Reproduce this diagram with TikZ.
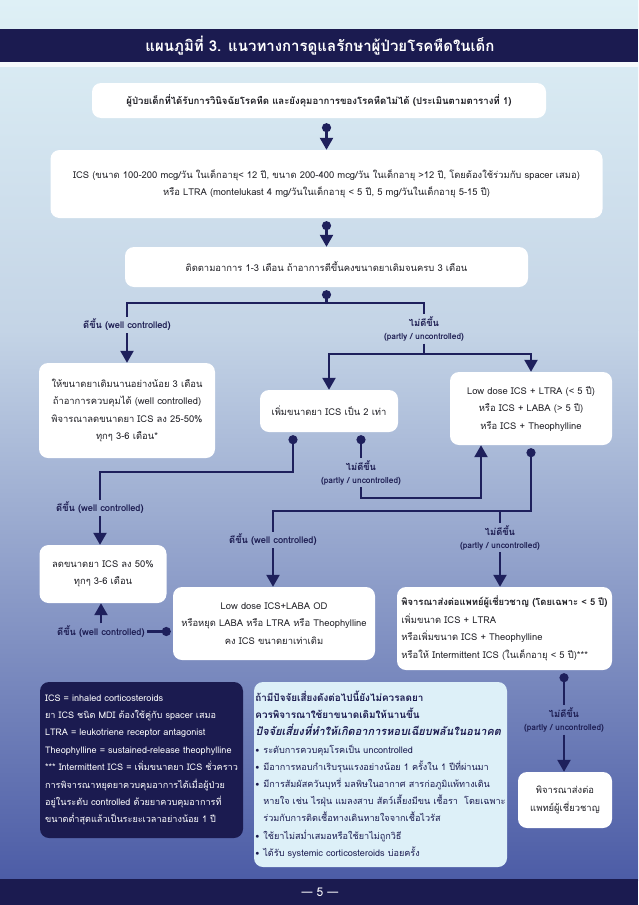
\documentclass[tikz,border=0pt]{standalone}
\usepackage{fontspec}
\setmainfont{Loma}[Script=Thai]
\usepackage{tikz}
\usetikzlibrary{positioning, arrows.meta, calc}
\definecolor{navy}{RGB}{27,27,80}
\definecolor{lineNavy}{RGB}{30,32,92}
\definecolor{bgTop}{RGB}{222,240,246}
\definecolor{bgMid}{RGB}{196,212,230}
\definecolor{bgBot}{RGB}{76,92,166}
\definecolor{riskBlue}{RGB}{221,240,248}
\definecolor{txtGray}{RGB}{32,32,38}
\newcommand{\riskbul}{\makebox[8pt][l]{\raisebox{0.6pt}{\scriptsize$\bullet$}}}
\newcommand{\partlytxt}{{\bfseries\fontsize{8.4}{10}\selectfont(partly / uncontrolled)}}

\begin{document}
\begin{tikzpicture}[
  x=1pt, y=-1pt,
  box/.style={fill=white, rounded corners=9pt, align=center, inner sep=0pt,
    text=txtGray, font=\fontsize{9.4}{17.5}\selectfont},
  lbl/.style={font=\bfseries\fontsize{9.3}{13}\selectfont, text=navy, align=center, inner sep=2pt},
  link/.style={draw=lineNavy, line width=2.4pt},
  dot/.style={{Circle[length=9pt]}-},
  arr/.style={-{Triangle[length=12pt,width=13pt]}},
  dotarr/.style={{Circle[length=9pt]}-{Triangle[length=12pt,width=13pt]}},
]
  \useasboundingbox (0,0) rectangle (638,905);
  \shade[top color=bgTop, bottom color=bgMid] (0,0) rectangle (638,330);
  \shade[top color=bgMid, bottom color=bgBot] (0,330) rectangle (638,880);
  \fill[navy] (0,29) rectangle (638,62);
  \fill[white, opacity=0.75] (0,62) rectangle (638,67);
  \fill[navy] (0,879) rectangle (638,905);

  \node[font=\bfseries\fontsize{15}{18}\selectfont, text=white] (title) at (320,46)
    {แผนภูมิที่ 3. แนวทางการดูแลรักษาผู้ป่วยโรคหืดในเด็ก};
  \node[text=white, font=\fontsize{12}{14}\selectfont] (page) at (320,892) {— 5 —};

  \node[box, minimum width=454pt, minimum height=35pt, font=\bfseries\fontsize{9.6}{11}\selectfont]
    (diag) at (319,100.5)
    {ผู้ป่วยเด็กที่ได้รับการวินิจฉัยโรคหืด และยังคุมอาการของโรคหืดไม่ได้ (ประเมินตามตารางที่ 1)};
  \node[box, minimum width=552pt, minimum height=68pt] (initial) at (326.5,184)
    {ICS (ขนาด 100-200 mcg/วัน ในเด็กอายุ< 12 ปี, ขนาด 200-400 mcg/วัน ในเด็กอายุ >12 ปี, โดยต้องใช้ร่วมกับ spacer เสมอ)\\
     หรือ LTRA (montelukast 4 mg/วันในเด็กอายุ < 5 ปี, 5 mg/วันในเด็กอายุ 5-15 ปี)};
  \node[box, minimum width=403pt, minimum height=40pt] (follow) at (326.5,267)
    {ติดตามอาการ 1-3 เดือน ถ้าอาการดีขึ้นคงขนาดยาเดิมจนครบ 3 เดือน};
  \node[box, minimum width=176pt, minimum height=95pt] (keepdose) at (127,410.5)
    {ให้ขนาดยาเดิมนานอย่างน้อย 3 เดือน\\ถ้าอาการควบคุมได้ (well controlled)\\
     พิจารณาลดขนาดยา ICS ลง 25-50\%\\ทุกๆ 3-6 เดือน*};
  \node[box, minimum width=138pt, minimum height=42pt] (doubleics) at (329,411)
    {เพิ่มขนาดยา ICS เป็น 2 เท่า};
  \node[box, minimum width=162pt, minimum height=73pt] (addon) at (531,408.5)
    {Low dose ICS + LTRA (< 5 ปี)\\หรือ ICS + LABA (> 5 ปี)\\หรือ ICS + Theophylline};
  \node[box, minimum width=127pt, minimum height=58pt] (reduce) at (103,574)
    {ลดขนาดยา ICS ลง 50\%\\ทุกๆ 3-6 เดือน};
  \node[box, minimum width=202pt, minimum height=73pt] (lowdose) at (274,623.5)
    {Low dose ICS+LABA OD\\หรือหยุด LABA หรือ LTRA หรือ Theophylline\\คง ICS ขนาดยาเท่าเดิม};
  \node[box, minimum width=215pt, minimum height=83pt, align=left] (refer) at (504.5,628.5)
    {\textbf{พิจารณาส่งต่อแพทย์ผู้เชี่ยวชาญ (โดยเฉพาะ < 5 ปี)}\\เพิ่มขนาด ICS + LTRA\\
     หรือเพิ่มขนาด ICS + Theophylline\\หรือให้ Intermittent ICS (ในเด็กอายุ < 5 ปี)***};
  \node[box, minimum width=94pt, minimum height=56pt] (specialist) at (565,800)
    {พิจารณาส่งต่อ\\แพทย์ผู้เชี่ยวชาญ};

  \node[box, fill=navy, text=white, align=left, minimum width=203pt, minimum height=156pt,
    font=\fontsize{9.1}{17.4}\selectfont] (legend) at (141.5,760)
    {ICS = inhaled corticosteroids\\ยา ICS ชนิด MDI ต้องใช้คู่กับ spacer เสมอ\\
     LTRA = leukotriene receptor antagonist\\Theophylline = sustained-release theophylline\\
     *** Intermittent ICS = เพิ่มขนาดยา ICS ชั่วคราว\\การพิจารณาหยุดยาควบคุมอาการได้เมื่อผู้ป่วย\\
     อยู่ในระดับ controlled ด้วยยาควบคุมอาการที่\\ขนาดต่ำสุดแล้วเป็นระยะเวลาอย่างน้อย 1 ปี};
  \node[box, fill=riskBlue, text=navy, align=left, minimum width=253pt, minimum height=185pt,
    font=\fontsize{9.1}{17.2}\selectfont] (risk) at (380.5,774.5)
    {{\bfseries\fontsize{9.9}{17.2}\selectfont ถ้ามีปัจจัยเสี่ยงดังต่อไปนี้ยังไม่ควรลดยา}\\
     {\bfseries\fontsize{9.9}{17.2}\selectfont ควรพิจารณาใช้ยาขนาดเดิมให้นานขึ้น}\\
     {\bfseries\itshape\fontsize{11}{17.2}\selectfont ปัจจัยเสี่ยงที่ทำให้เกิดอาการหอบเฉียบพลันในอนาคต}\\
     \riskbul ระดับการควบคุมโรคเป็น uncontrolled\\
     \riskbul มีอาการหอบกำเริบรุนแรงอย่างน้อย 1 ครั้งใน 1 ปีที่ผ่านมา\\
     \riskbul มีการสัมผัสควันบุหรี่ มลพิษในอากาศ สารก่อภูมิแพ้ทางเดิน\\
     \hspace*{8pt}หายใจ เช่น ไรฝุ่น แมลงสาบ สัตว์เลี้ยงมีขน เชื้อรา\ \ โดยเฉพาะ\\
     \hspace*{8pt}ร่วมกับการติดเชื้อทางเดินหายใจจากเชื้อไวรัส\\
     \riskbul ใช้ยาไม่สม่ำเสมอหรือใช้ยาไม่ถูกวิธี\\
     \riskbul ได้รับ systemic corticosteroids บ่อยครั้ง};

  \node[lbl] (wellA) at (127,325) {ดีขึ้น (well controlled)};
  \node[lbl] (notA) at (424,329) {ไม่ดีขึ้น\\\partlytxt};
  \node[lbl] (notB) at (361,472.5) {ไม่ดีขึ้น\\\partlytxt};
  \node[lbl] (wellB) at (100,508) {ดีขึ้น (well controlled)};
  \node[lbl] (wellC) at (273,540) {ดีขึ้น (well controlled)};
  \node[lbl] (notC) at (500,537.5) {ไม่ดีขึ้น\\\partlytxt};
  \node[lbl] (wellD) at (101,631.5) {ดีขึ้น (well controlled)};
  \node[lbl] (notD) at (564,720) {ไม่ดีขึ้น\\\partlytxt};

  \coordinate (splitA) at (326.5,303);
  \coordinate (splitB) at (424,354);
  \coordinate (joinC) at (500,511);

  \draw[link, dotarr] ([yshift=-5pt]diag.south -| initial.north) -- (initial.north);
  \draw[link, dotarr] ([yshift=-3pt]initial.south) -- (follow.north);
  \draw[link, dot] ([yshift=-3pt]follow.south) -- (splitA);
  \draw[link] (wellA.north) |- (splitA) -| (notA.north);
  \draw[link, arr] (wellA.south) -- (wellA.south |- keepdose.north);
  \draw[link] (notA.south) -- (splitB);
  \draw[link, arr] (splitB) -| (doubleics.north);
  \draw[link, arr] (splitB) -| (addon.north);

  \draw[link, dot] ([xshift=-36pt,yshift=-3pt]doubleics.south) -- ++(0,37) -| (wellB.north);
  \draw[link, arr] (wellB.south) -- (wellB.south |- reduce.north);
  \draw[link, dot] ([xshift=32pt,yshift=-3pt]doubleics.south) -- (notB.north);
  \draw[link, arr] (notB.south) -- ++(0,11) -| ([xshift=-50pt]addon.south);

  \draw[link, dot] ([yshift=-3pt]addon.south) |- (joinC) -| (wellC.north);
  \draw[link] (joinC) -- (notC.north);
  \draw[link, arr] (wellC.south) -- (wellC.south |- lowdose.north);
  \draw[link, arr] (notC.south) -- (notC.south |- refer.north);

  \draw[link, dot] ([xshift=-2pt]wellD.east -| lowdose.west) -- (wellD.east);
  \draw[link, arr] (wellD.north) -- (wellD.north |- reduce.south);
  \draw[link, dot] ([yshift=-3pt]refer.south -| notD.north) -- (notD.north);
  \draw[link, arr] (notD.south) -- (notD.south |- specialist.north);
\end{tikzpicture}
\end{document}
